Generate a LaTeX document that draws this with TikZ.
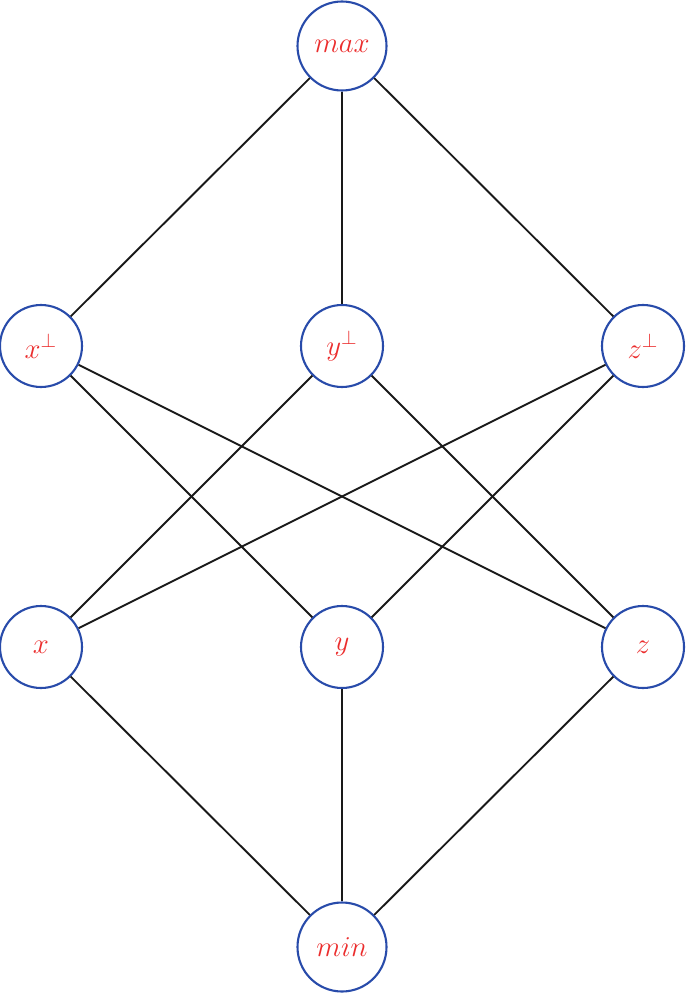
\documentclass[tikz,border=0pt]{standalone}
\begin{document}
\definecolor{nodeblue}{RGB}{40,75,170}
\definecolor{labelred}{RGB}{235,45,45}
\begin{tikzpicture}[x=0.5pt,y=-0.5pt,
  vtx/.style={circle,draw=nodeblue,line width=1.05pt,minimum size=41pt,inner sep=0pt,
    text=labelred,font=\fontsize{14}{17}\selectfont},
  big/.style={minimum size=44.5pt},
  edge/.style={line width=0.95pt,black!90}]
\useasboundingbox (0,0) rectangle (685,994);
\node[vtx,big] (max) at (342,46) {$max$};
\node[vtx] (xp) at (41,346) {$x^{\perp}$};
\node[vtx] (yp) at (342,346) {$y^{\perp}$};
\node[vtx] (zp) at (643,346) {$z^{\perp}$};
\node[vtx] (x) at (41,647) {$x$};
\node[vtx] (y) at (342,647) {$y$};
\node[vtx] (z) at (643,647) {$z$};
\node[vtx,big] (min) at (342,947) {$min$};
\draw[edge] (max) -- (xp);
\draw[edge] (max) -- (yp);
\draw[edge] (max) -- (zp);
\draw[edge] (xp) -- (y);
\draw[edge] (xp) -- (z);
\draw[edge] (yp) -- (x);
\draw[edge] (yp) -- (z);
\draw[edge] (zp) -- (x);
\draw[edge] (zp) -- (y);
\draw[edge] (x) -- (min);
\draw[edge] (y) -- (min);
\draw[edge] (z) -- (min);
\end{tikzpicture}
\end{document}
